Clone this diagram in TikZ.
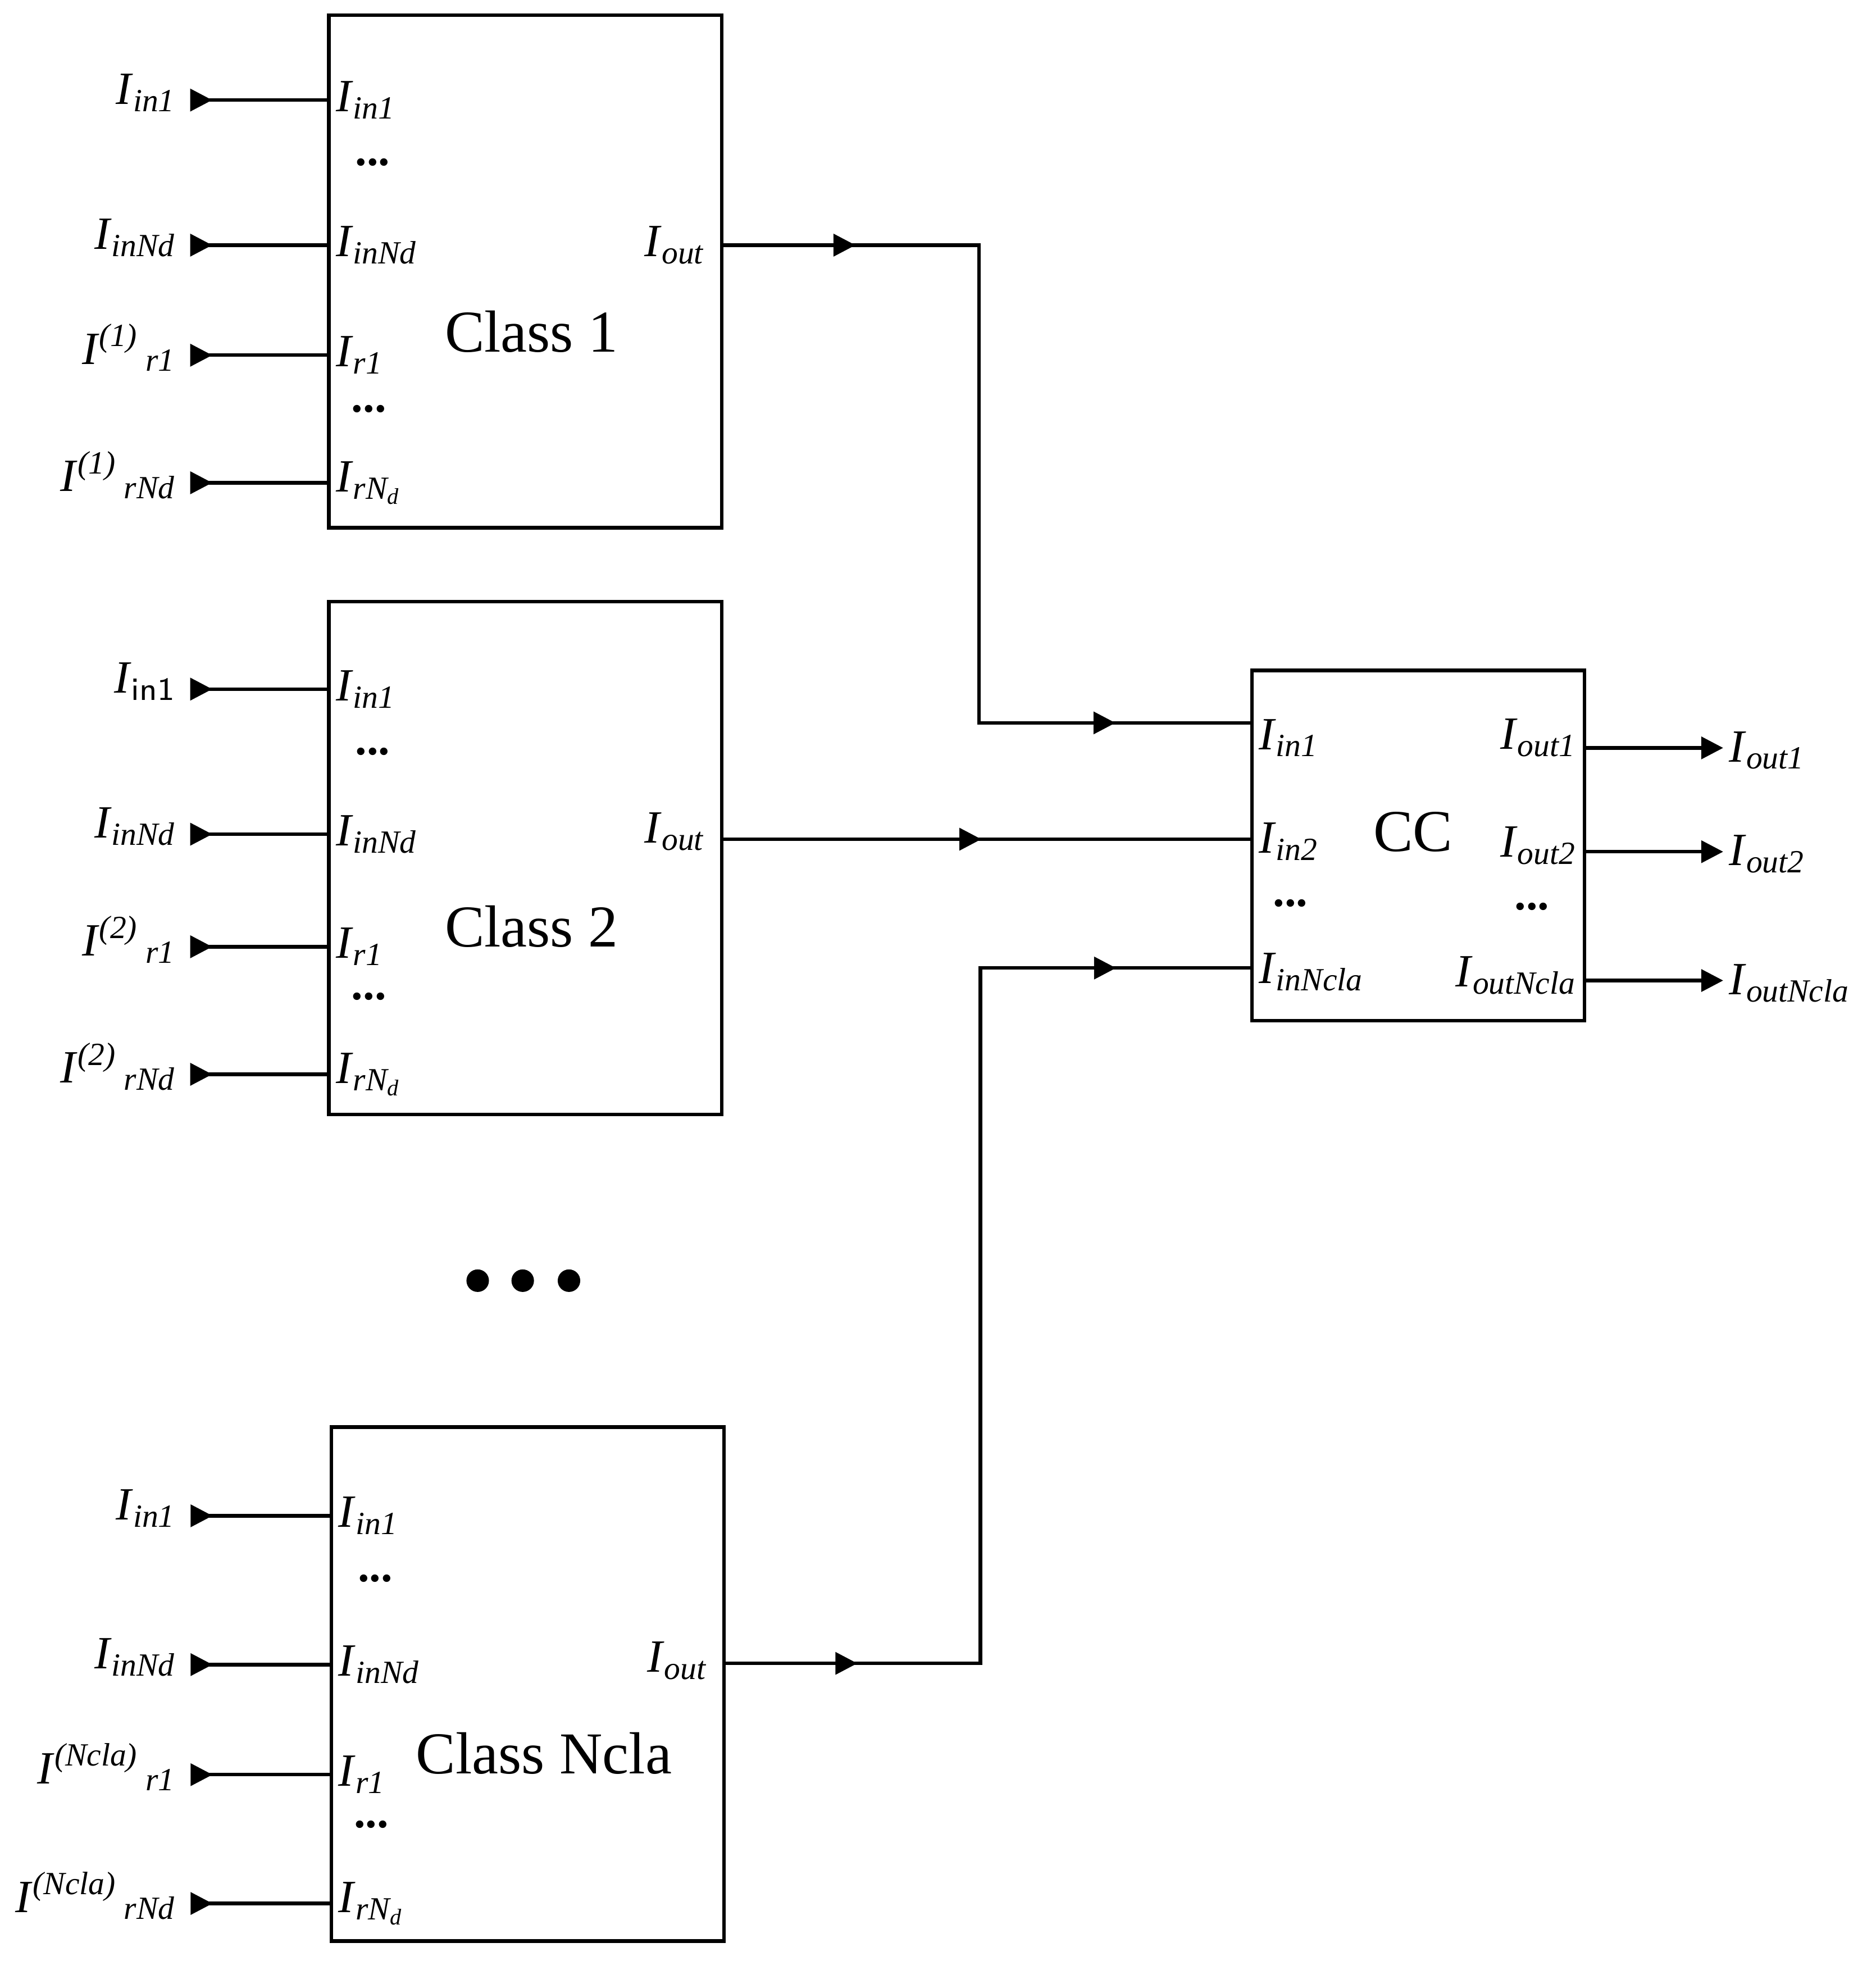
\documentclass[tikz,border=0pt]{standalone}
\usepackage{fontspec}
\setmainfont{Liberation Serif}
\usetikzlibrary{arrows.meta,decorations.markings}
\newcommand{\Isub}[1]{\textit{I}\textsubscript{\textit{#1}}}
\newcommand{\Isup}[2]{\textit{I}\textsuperscript{\textit{(#1)}}\textsubscript{\hspace{0.2em}\textit{#2}}}
\tikzset{
  blk/.style={draw,thick},
  lbl/.style={font=\fontsize{10.5}{12}\selectfont,inner sep=0pt},
  inl/.style={lbl,anchor=west},
  ttl/.style={font=\fontsize{13.5}{15}\selectfont},
  inarr/.style={thick,postaction={decorate},decoration={markings,
    mark=at position 0.12 with {\arrow{Triangle[length=5pt,width=5pt]}}}},
  midarr/.style={thick,postaction={decorate},decoration={markings,
    mark=at position #1 with {\arrow{Triangle[length=5pt,width=5pt]}}}},
  outarr/.style={thick,-{Triangle[length=5pt,width=5pt]}}
}
\begin{document}
\begin{tikzpicture}[x=0.01cm,y=-0.01cm]
\useasboundingbox (0,0) rectangle (1500,1568);

% Class 1
\draw[blk] (263,12) rectangle (577,422);
\node[ttl] at (425,265) {Class 1};
\foreach \y/\o/\i in {80/{\Isub{in1}}/{\Isub{in1}},196/{\Isub{inNd}}/{\Isub{inNd}},284/{\Isup{1}{r1}}/{\Isub{r1}},386/{\Isup{1}{rNd}}/{\Isub{rN\textsubscript{d}}}}{
  \coordinate (a\y) at (157,\y);
  \coordinate (b\y) at (263,\y);
  \draw[inarr] (a\y) -- (b\y);
  \node[lbl,anchor=east] at (142,\y-6) {\o};
  \node[inl] at (268,\y) {\i};
}
\node[lbl] at (298,130) {\textbf{...}};
\node[lbl] at (295,327) {\textbf{...}};
\node[lbl] at (540,196) {\Isub{out}};

% Class 2
\draw[blk] (263,481) rectangle (577,891);
\node[ttl] at (425,741) {Class 2};
\foreach \y/\o/\i in {551/{\textit{I}\textsubscript{\textsf{in1}}}/{\Isub{in1}},667/{\Isub{inNd}}/{\Isub{inNd}},757/{\Isup{2}{r1}}/{\Isub{r1}},859/{\Isup{2}{rNd}}/{\Isub{rN\textsubscript{d}}}}{
  \coordinate (a\y) at (157,\y);
  \coordinate (b\y) at (263,\y);
  \draw[inarr] (a\y) -- (b\y);
  \node[lbl,anchor=east] at (142,\y-6) {\o};
  \node[inl] at (268,\y) {\i};
}
\node[lbl] at (298,601) {\textbf{...}};
\node[lbl] at (295,797) {\textbf{...}};
\node[lbl] at (540,665) {\Isub{out}};

% dots between classes
\foreach \x in {382,418,455} \fill (\x,1024) circle (9);

% Class Ncla
\draw[blk] (265,1141) rectangle (579,1552);
\node[ttl] at (435,1402) {Class Ncla};
\foreach \y/\o/\i in {1212/{\Isub{in1}}/{\Isub{in1}},1331/{\Isub{inNd}}/{\Isub{inNd}},1419/{\Isup{Ncla}{r1}}/{\Isub{r1}},1522/{\Isup{Ncla}{rNd}}/{\Isub{rN\textsubscript{d}}}}{
  \coordinate (a\y) at (157,\y);
  \coordinate (b\y) at (265,\y);
  \draw[inarr] (a\y) -- (b\y);
  \node[lbl,anchor=east] at (142,\y-6) {\o};
  \node[inl] at (270,\y) {\i};
}
\node[lbl] at (300,1262) {\textbf{...}};
\node[lbl] at (297,1459) {\textbf{...}};
\node[lbl] at (542,1328) {\Isub{out}};

% CC block
\draw[blk] (1001,536) rectangle (1267,816);
\node[ttl] at (1130,665) {CC};
\node[inl] at (1006,590) {\Isub{in1}};
\node[inl] at (1006,673) {\Isub{in2}};
\node[lbl] at (1032,722) {\textbf{...}};
\node[inl] at (1006,777) {\Isub{inNcla}};
\node[lbl,anchor=east] at (1262,590) {\Isub{out1}};
\node[lbl,anchor=east] at (1262,676) {\Isub{out2}};
\node[lbl] at (1225,725) {\textbf{...}};
\node[lbl,anchor=east] at (1262,780) {\Isub{outNcla}};

% connections
\coordinate (o1) at (577,196);
\coordinate (c1) at (1001,578);
\draw[thick] (o1) -- (783,196) -- (783,578) -- (c1);
\draw[midarr=0.52] (o1) -- (783,196);
\draw[midarr=0.5] (783,578) -- (c1);
\coordinate (o2) at (577,671);
\coordinate (c2) at (1001,671);
\draw[midarr=0.49] (o2) -- (c2);
\coordinate (o3) at (579,1330);
\coordinate (c3) at (1001,774);
\draw[thick] (o3) -- (784,1330) -- (784,774) -- (c3);
\draw[midarr=0.52] (o3) -- (784,1330);
\draw[midarr=0.5] (784,774) -- (c3);

% outputs
\foreach \y/\t in {598/out1,681/out2,784/outNcla}{
  \coordinate (p\y) at (1267,\y);
  \coordinate (q\y) at (1378,\y);
  \draw[outarr] (p\y) -- (q\y);
  \node[inl] at (1382,\y+2) {\Isub{\t}};
}
\end{tikzpicture}
\end{document}
